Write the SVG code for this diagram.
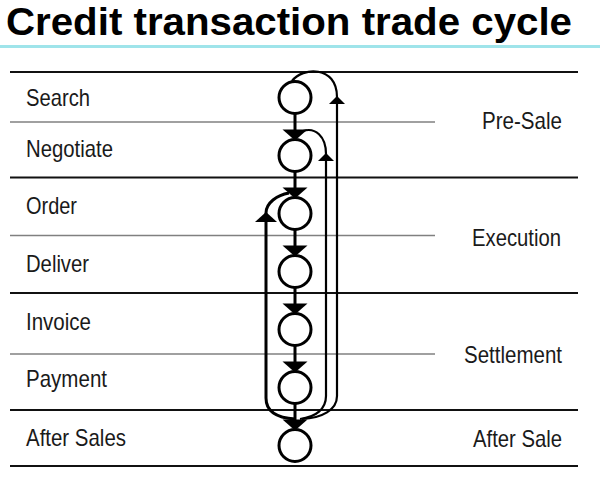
<svg xmlns="http://www.w3.org/2000/svg" width="600" height="481" viewBox="0 0 600 481">
<style>
.title{font-family:"Liberation Sans",Arial,sans-serif;font-weight:bold;font-size:38px;fill:#000}
.lbl{font-family:"Liberation Sans",Arial,sans-serif;font-size:24px;fill:#1a1a1a}
.rule{stroke:#111;stroke-width:2}
.sub{stroke:#808080;stroke-width:1.6}
.node{fill:#fff;stroke:#000;stroke-width:3}
.flow{fill:none;stroke:#000;stroke-width:3}
.loop{fill:none;stroke:#000;stroke-width:2.2}
.head{fill:#000}
</style>
<defs>
<path id="down" d="M-12.5,-10 L12.5,-10 L0,1 Z"/>
</defs>
<rect width="600" height="481" fill="#fff"/>
<text class="title" x="6" y="35" textLength="566" lengthAdjust="spacingAndGlyphs">Credit transaction trade cycle</text>
<line x1="0" y1="46.5" x2="600" y2="46.5" stroke="#9fe4ea" stroke-width="3"/>
<g id="grid">
<line class="rule" x1="10" y1="72" x2="578" y2="72"/>
<line class="sub" x1="10" y1="122" x2="435" y2="122"/>
<line class="rule" x1="10" y1="177.5" x2="578" y2="177.5"/>
<line class="sub" x1="10" y1="235.5" x2="435" y2="235.5"/>
<line class="rule" x1="10" y1="293" x2="578" y2="293"/>
<line class="sub" x1="10" y1="354" x2="435" y2="354"/>
<line class="rule" x1="10" y1="410" x2="578" y2="410"/>
<line class="rule" x1="10" y1="466" x2="578" y2="466"/>
</g>
<g id="phases">
<text class="lbl" x="482" y="129" textLength="80" lengthAdjust="spacingAndGlyphs">Pre-Sale</text>
<text class="lbl" x="472" y="246" textLength="89" lengthAdjust="spacingAndGlyphs">Execution</text>
<text class="lbl" x="464" y="363" textLength="98" lengthAdjust="spacingAndGlyphs">Settlement</text>
<text class="lbl" x="473" y="447" textLength="89" lengthAdjust="spacingAndGlyphs">After Sale</text>
</g>
<g id="connectors">
<path class="loop" d="M292,81 C302,67 337,65 337,97 V396 C337,410 322,418 302,419"/>
<path class="loop" d="M303,131 C315,127 326,136 326,154 V396 C326,409 316,417 300,419"/>
<path class="flow" d="M289,193 C277,195 266,203 266,213 V398 C266,412 278,418 295,419"/>
<polygon class="head" points="329,104 345,104 337,96"/>
<polygon class="head" points="318,161 334,161 326,153"/>
<polygon class="head" points="255,222 277,222 266,212"/>
<line class="flow" x1="295" y1="114" x2="295" y2="130"/>
<line class="flow" x1="295" y1="172" x2="295" y2="188"/>
<line class="flow" x1="295" y1="230" x2="295" y2="246"/>
<line class="flow" x1="295" y1="288" x2="295" y2="304"/>
<line class="flow" x1="295" y1="346" x2="295" y2="362"/>
<line class="flow" x1="295" y1="404" x2="295" y2="420"/>
<use href="#down" x="295" y="139.5"/>
<use href="#down" x="295" y="197.5"/>
<use href="#down" x="295" y="255.5"/>
<use href="#down" x="295" y="313.5"/>
<use href="#down" x="295" y="371.5"/>
<use href="#down" x="295" y="429.5"/>
</g>
<g id="search"><circle class="node" cx="295" cy="97.5" r="16"/><text class="lbl" x="26" y="106" textLength="64" lengthAdjust="spacingAndGlyphs">Search</text></g>
<g id="negotiate"><circle class="node" cx="295" cy="155.5" r="16"/><text class="lbl" x="26" y="157" textLength="87" lengthAdjust="spacingAndGlyphs">Negotiate</text></g>
<g id="order"><circle class="node" cx="295" cy="213.5" r="16"/><text class="lbl" x="26" y="214" textLength="51" lengthAdjust="spacingAndGlyphs">Order</text></g>
<g id="deliver"><circle class="node" cx="295" cy="271.5" r="16"/><text class="lbl" x="26" y="272" textLength="63" lengthAdjust="spacingAndGlyphs">Deliver</text></g>
<g id="invoice"><circle class="node" cx="295" cy="329.5" r="16"/><text class="lbl" x="26" y="330" textLength="65" lengthAdjust="spacingAndGlyphs">Invoice</text></g>
<g id="payment"><circle class="node" cx="295" cy="387.5" r="16"/><text class="lbl" x="26" y="387" textLength="81" lengthAdjust="spacingAndGlyphs">Payment</text></g>
<g id="after-sales"><circle class="node" cx="295" cy="445.5" r="16"/><text class="lbl" x="26" y="446" textLength="100" lengthAdjust="spacingAndGlyphs">After Sales</text></g>
</svg>
